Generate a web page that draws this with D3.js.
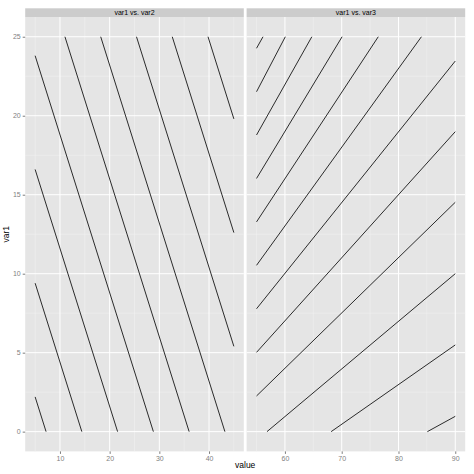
<!DOCTYPE html>
<html>
<head>
<meta charset="utf-8">
<script src="https://cdn.jsdelivr.net/npm/d3@7"></script>
<style>
  body { margin: 0; background: #fff; }
  text { font-family: "Liberation Sans", Arial, sans-serif; }
</style>
</head>
<body>
<div id="chart"></div>
<script>
// facet titles and value ranges for each panel
const facets = ["var1 vs. var2", "var1 vs. var3"];
const xDomains = [[5, 45], [55, 90]];
const xTicks = [[10, 20, 30, 40], [60, 70, 80, 90]];
const xMinor = [[5, 15, 25, 35, 45], [55, 65, 75, 85]];
const yTicks = [0, 5, 10, 15, 20, 25];
const yMinor = [2.5, 7.5, 12.5, 17.5, 22.5];

// segment end points, panel 1 (var2)
const v2x1 = [5, 5, 5, 5, 11.0, 18.2, 25.4, 32.6, 39.8];
const v2y1 = [23.8, 16.6, 9.4, 2.2, 25, 25, 25, 25, 25];
const v2x2 = [28.8, 21.6, 14.4, 7.2, 36.0, 43.2, 45, 45, 45];
const v2y2 = [0, 0, 0, 0, 0, 0, 5.4, 12.6, 19.8];

// panel 2 (var3)
const v3x1 = [55, 55, 55, 55, 55, 55, 55, 55, 55, 56.84, 68.14, 85.09];
const v3y1 = [24.27, 21.52, 18.78, 16.03, 13.28, 10.53, 7.78, 5.02, 2.26, 0, 0, 0];
const v3x2 = [56.14, 60.07, 64.74, 70.07, 76.44, 84.04, 90, 90, 90, 90, 90, 90];
const v3y2 = [25, 25, 25, 25, 25, 25, 23.46, 18.99, 14.52, 10.0, 5.49, 0.97];

const segs = [
  v2x1.map((d, i) => ({x1: d, y1: v2y1[i], x2: v2x2[i], y2: v2y2[i]})),
  v3x1.map((d, i) => ({x1: d, y1: v3y1[i], x2: v3x2[i], y2: v3y2[i]}))
];

const width = 474, height = 474;
const panelTop = 17, panelBottom = 451.4;
const panelLeft = [25.2, 246.6];
const panelW = 218.6;
const stripH = 8.7;

const svg = d3.select("#chart").append("svg")
  .attr("width", width)
  .attr("height", height);

// y scale shared, ggplot style 5% expansion
const yScale = d3.scaleLinear()
  .domain([0 - 1.25, 25 + 1.25])
  .range([panelBottom, panelTop]);

facets.forEach((name, p) => {
  const dom = xDomains[p];
  const pad = (dom[1] - dom[0]) * 0.05;
  const xScale = d3.scaleLinear()
    .domain([dom[0] - pad, dom[1] + pad])
    .range([panelLeft[p], panelLeft[p] + panelW]);

  const g = svg.append("g");

  // panel background
  g.append("rect")
    .attr("x", panelLeft[p]).attr("y", panelTop)
    .attr("width", panelW).attr("height", panelBottom - panelTop)
    .attr("fill", "#e5e5e5");

  // minor grid
  g.selectAll(".vminor").data(xMinor[p]).enter().append("line")
    .attr("x1", d => xScale(d)).attr("x2", d => xScale(d))
    .attr("y1", panelTop).attr("y2", panelBottom)
    .attr("stroke", "#f2f2f2").attr("stroke-width", 0.5);
  g.selectAll(".hminor").data(yMinor).enter().append("line")
    .attr("x1", panelLeft[p]).attr("x2", panelLeft[p] + panelW)
    .attr("y1", d => yScale(d)).attr("y2", d => yScale(d))
    .attr("stroke", "#f2f2f2").attr("stroke-width", 0.5);

  // major grid
  g.selectAll(".vmajor").data(xTicks[p]).enter().append("line")
    .attr("x1", d => xScale(d)).attr("x2", d => xScale(d))
    .attr("y1", panelTop).attr("y2", panelBottom)
    .attr("stroke", "#fff").attr("stroke-width", 1);
  g.selectAll(".hmajor").data(yTicks).enter().append("line")
    .attr("x1", panelLeft[p]).attr("x2", panelLeft[p] + panelW)
    .attr("y1", d => yScale(d)).attr("y2", d => yScale(d))
    .attr("stroke", "#fff").attr("stroke-width", 1);

  // the segments
  g.selectAll(".seg").data(segs[p]).enter().append("line")
    .attr("class", "seg")
    .attr("x1", d => xScale(d.x1)).attr("y1", d => yScale(d.y1))
    .attr("x2", d => xScale(d.x2)).attr("y2", d => yScale(d.y2))
    .attr("stroke", "#2b2b2b").attr("stroke-width", 1);

  // strip on top
  g.append("rect")
    .attr("x", panelLeft[p]).attr("y", panelTop - stripH)
    .attr("width", panelW).attr("height", stripH)
    .attr("fill", "#cccccc");
  g.append("text")
    .attr("x", panelLeft[p] + panelW / 2).attr("y", panelTop - stripH / 2)
    .attr("dy", "0.35em")
    .attr("text-anchor", "middle")
    .attr("font-size", "7px")
    .attr("fill", "#000")
    .text(name);

  // bottom axis
  const xAxis = g.append("g")
    .attr("transform", `translate(0,${panelBottom})`)
    .call(d3.axisBottom(xScale).tickValues(xTicks[p]).tickSize(2.5).tickPadding(2));
  xAxis.select(".domain").remove();
  xAxis.selectAll("line").attr("stroke", "#7f7f7f");
  xAxis.selectAll("text").attr("fill", "#7f7f7f").attr("font-size", "7px")
    .style("font-family", "Liberation Sans, Arial, sans-serif");
});

// left axis
const yAxis = svg.append("g")
  .attr("transform", `translate(${panelLeft[0]},0)`)
  .call(d3.axisLeft(yScale).tickValues(yTicks).tickSize(2.5).tickPadding(2));
yAxis.select(".domain").remove();
yAxis.selectAll("line").attr("stroke", "#7f7f7f");
yAxis.selectAll("text").attr("fill", "#7f7f7f").attr("font-size", "7px")
  .style("font-family", "Liberation Sans, Arial, sans-serif");

// axis titles
svg.append("text")
  .attr("x", (panelLeft[0] + panelLeft[1] + panelW) / 2)
  .attr("y", 468)
  .attr("text-anchor", "middle")
  .attr("font-size", "8.5px")
  .attr("fill", "#000")
  .text("value");

svg.append("text")
  .attr("transform", `translate(9,${(panelTop + panelBottom) / 2}) rotate(-90)`)
  .attr("text-anchor", "middle")
  .attr("font-size", "8.5px")
  .attr("fill", "#000")
  .text("var1");
</script>
</body>
</html>
